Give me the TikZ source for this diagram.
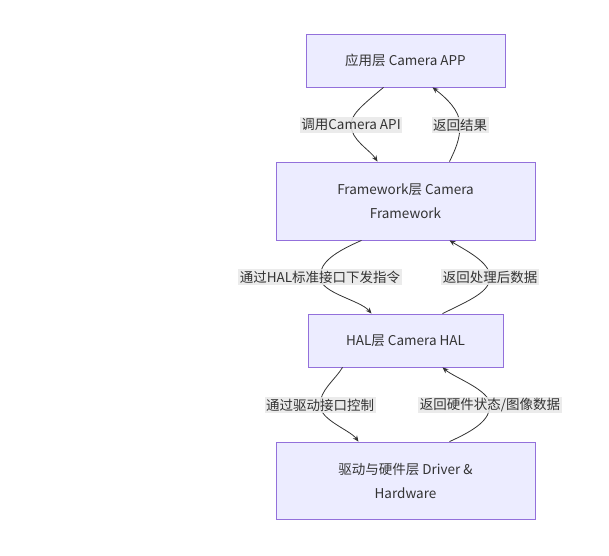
\documentclass[tikz,border=0pt]{standalone}
\usepackage{fontspec}
\setmainfont{Noto Sans CJK SC}
\usetikzlibrary{arrows.meta}
\definecolor{nfill}{HTML}{ECECFF}
\definecolor{nline}{HTML}{9370DB}
\definecolor{lbg}{HTML}{E8E8E8}
\definecolor{edge}{HTML}{333333}
\begin{document}
\begin{tikzpicture}[x=1pt,y=-1pt,
  box/.style={draw=nline,fill=nfill,line width=0.8pt,align=center,font=\fontsize{13.5}{24}\selectfont,text=edge,inner sep=0pt},
  lbl/.style={fill=lbg,fill opacity=0.85,text opacity=1,font=\fontsize{13.5}{15}\selectfont,text=edge,inner sep=1.5pt},
  conn/.style={draw=edge,line width=0.8pt,-{Stealth[length=6pt,width=5pt]}}]
\useasboundingbox (0,0) rectangle (609,555);
\node[box,minimum width=199pt,minimum height=53pt] (a) at (405.5,60.5) {应用层 Camera APP};
\node[box,minimum width=259pt,minimum height=78pt] (b) at (405.5,201) {Framework层 Camera\\Framework};
\node[box,minimum width=195pt,minimum height=53pt] (c) at (405.5,340.5) {HAL层 Camera HAL};
\node[box,minimum width=259pt,minimum height=77pt] (d) at (405.5,480.5) {驱动与硬件层 Driver \&\\Hardware};
\coordinate (p1) at (351,125); \coordinate (p2) at (460,125);
\coordinate (p3) at (320,277); \coordinate (p4) at (490,277);
\coordinate (p5) at (320,405); \coordinate (p6) at (490,405);
\draw[conn] ([xshift=-22pt]a.south) .. controls (360,107) and (351,115) .. (p1) .. controls (351,140) and (370,150) .. ([xshift=-28pt]b.north);
\draw[conn] ([xshift=44pt]b.north) .. controls (455,150) and (460,140) .. (p2) .. controls (460,110) and (445,97) .. ([xshift=27pt]a.south);
\draw[conn] ([xshift=-44pt]b.south) .. controls (335,252) and (320,262) .. (p3) .. controls (320,293) and (360,300) .. ([xshift=-34pt]c.north);
\draw[conn] ([xshift=37pt]c.north) .. controls (470,300) and (490,292) .. (p4) .. controls (490,262) and (465,250) .. ([xshift=44pt]b.south);
\draw[conn] ([xshift=-63pt]c.south) .. controls (335,380) and (320,390) .. (p5) .. controls (320,420) and (350,430) .. ([xshift=-47pt]d.north);
\draw[conn] ([xshift=44pt]d.north) .. controls (475,430) and (490,420) .. (p6) .. controls (490,390) and (455,378) .. ([xshift=37pt]c.south);
\node[lbl] (l1) at (p1) {调用Camera API};
\node[lbl] (l2) at (p2) {返回结果};
\node[lbl] (l3) at (p3) {通过HAL标准接口下发指令};
\node[lbl] (l4) at (p4) {返回处理后数据};
\node[lbl] (l5) at (p5) {通过驱动接口控制};
\node[lbl] (l6) at (p6) {返回硬件状态/图像数据};
\end{tikzpicture}
\end{document}
